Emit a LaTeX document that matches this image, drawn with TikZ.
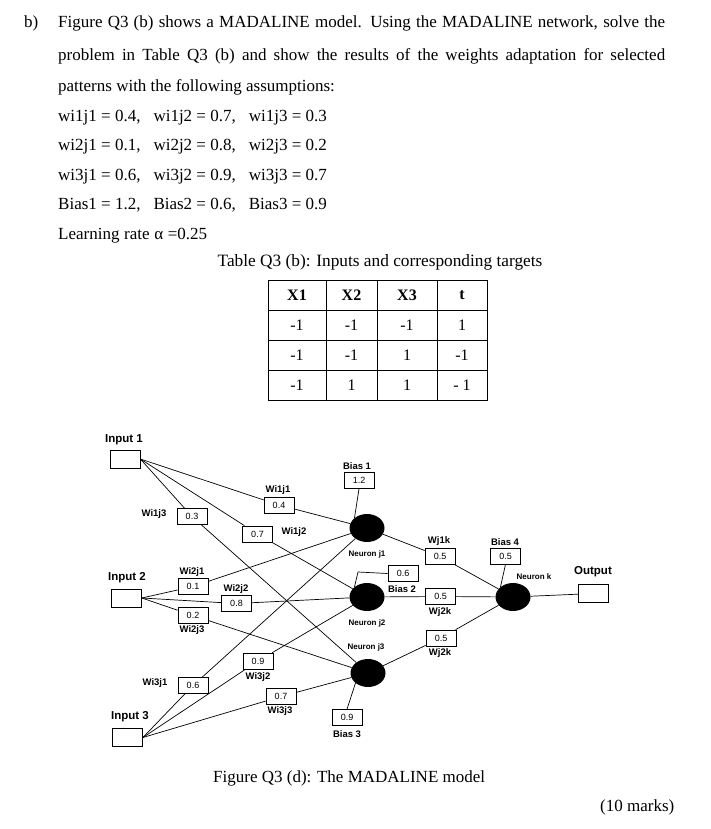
\documentclass[tikz,border=0pt]{standalone}
\usepackage{fontspec}
\setmainfont{Liberation Serif}
\newfontfamily\arial{Liberation Sans}
\usetikzlibrary{shapes.geometric}
\newcommand{\gapq}{,\hspace{13pt}}
\begin{document}
\begin{tikzpicture}[x=1pt,y=-1pt,
 body/.style={font=\fontsize{17}{20}\selectfont, anchor=base west, inner sep=0},
 tcell/.style={font=\fontsize{16}{18}\selectfont, inner sep=0},
 wbox/.style={draw, line width=0.7pt, minimum width=30pt, minimum height=16pt, inner sep=0, font=\arial\fontsize{9}{10}\selectfont},
 ibox/.style={draw, line width=0.7pt, minimum width=30pt, minimum height=18pt, inner sep=0},
 neuron/.style={ellipse, fill=black, minimum width=35pt, minimum height=28pt, inner sep=0},
 lab/.style={font=\arial\bfseries\fontsize{9.5}{10}\selectfont, inner sep=0},
 nlab/.style={font=\arial\bfseries\fontsize{8}{9}\selectfont, inner sep=0},
 iolab/.style={font=\arial\bfseries\fontsize{11.5}{12}\selectfont, inner sep=0},
 conn/.style={line width=0.7pt}
]
\useasboundingbox (0,0) rectangle (710,829);
% ---- question text
\node[body] (tb) at (24,28) {b)};
\node[body] (t1) at (58,28) {\makebox[607pt][s]{Figure Q3 (b) shows a MADALINE model. Using the MADALINE network, solve the}};
\node[body] (t2) at (58,61) {\makebox[607pt][s]{problem in Table Q3 (b) and show the results of the weights adaptation for selected}};
\node[body] (t3) at (58,92) {patterns with the following assumptions:};
\node[body] (t4) at (58,122) {wi1j1 = 0.4\gapq wi1j2 = 0.7\gapq wi1j3 = 0.3};
\node[body] (t5) at (58,151) {wi2j1 = 0.1\gapq wi2j2 = 0.8\gapq wi2j3 = 0.2};
\node[body] (t6) at (58,180) {wi3j1 = 0.6\gapq wi3j2 = 0.9\gapq wi3j3 = 0.7};
\node[body] (t7) at (58,209) {Bias1 = 1.2\gapq Bias2 = 0.6\gapq Bias3 = 0.9};
\node[body] (t8) at (58,239) {\makebox[149pt][s]{Learning rate α =0.25}};
% ---- table
\node[tcell,font=\fontsize{17.3}{19}\selectfont] (ttl) at (380,262) {Table Q3 (b): Inputs and corresponding targets};
\draw[line width=0.8pt] (268,280) rectangle (487,400);
\foreach \y in {310,340,370} \draw[line width=0.8pt] (268,\y) -- (487,\y);
\foreach \x in {326,377,437} \draw[line width=0.8pt] (\x,280) -- (\x,400);
\node[tcell,font=\bfseries\fontsize{16}{18}\selectfont] (h1) at (297,295) {X1};
\node[tcell,font=\bfseries\fontsize{16}{18}\selectfont] (h2) at (351.5,295) {X2};
\node[tcell,font=\bfseries\fontsize{16}{18}\selectfont] (h3) at (407,295) {X3};
\node[tcell,font=\bfseries\fontsize{16}{18}\selectfont] (h4) at (462,295) {t};
\node[tcell] (a1) at (297,325) {-1};
\node[tcell] (a2) at (351.5,325) {-1};
\node[tcell] (a3) at (407,325) {-1};
\node[tcell] (a4) at (462,325) {1};
\node[tcell] (b1c) at (297,355) {-1};
\node[tcell] (b2c) at (351.5,355) {-1};
\node[tcell] (b3c) at (407,355) {1};
\node[tcell] (b4c) at (462,355) {-1};
\node[tcell] (c1) at (297,385) {-1};
\node[tcell] (c2c) at (351.5,385) {1};
\node[tcell] (c3) at (407,385) {1};
\node[tcell] (c4) at (462,385) {- 1};
% ---- network
\node[ibox] (in1) at (125,459) {};
\node[ibox] (in2) at (126.5,598) {};
\node[ibox] (in3) at (127.5,737.5) {};
\node[iolab] (lin1) at (124,440) {Input 1};
\node[iolab] (lin2) at (127,578) {Input 2};
\node[iolab] (lin3) at (130,717) {Input 3};

\node[wbox] (w11) at (279,505) {0.4};
\node[wbox] (w12) at (257.5,534) {0.7};
\node[wbox] (w13) at (192,516.5) {0.3};
\node[wbox] (w21) at (193,586.5) {0.1};
\node[wbox] (w22) at (236.5,603.5) {0.8};
\node[wbox] (w23) at (193,615.5) {0.2};
\node[wbox] (w31) at (193,685.5) {0.6};
\node[wbox] (w32) at (258,661) {0.9};
\node[wbox] (w33) at (281,696.5) {0.7};

\node[lab] (lw11) at (278,490) {Wi1j1};
\node[lab] (lw12) at (294,532) {Wi1j2};
\node[lab] (lw13) at (154,514) {Wi1j3};
\node[lab] (lw21) at (192,572) {Wi2j1};
\node[lab] (lw22) at (236,589) {Wi2j2};
\node[lab] (lw23) at (192,630) {Wi2j3};
\node[lab] (lw31) at (155,683) {Wi3j1};
\node[lab] (lw32) at (258,677) {Wi3j2};
\node[lab] (lw33) at (280,711) {Wi3j3};

\node[neuron] (j1) at (367,528) {};
\node[neuron] (j2) at (367,597) {};
\node[neuron] (j3) at (368,673) {};
\node[nlab] (lj1) at (367,554) {Neuron j1};
\node[nlab] (lj2) at (367,623) {Neuron j2};
\node[nlab] (lj3) at (366,647) {Neuron j3};

\node[wbox] (bb1) at (359,480.5) {1.2};
\node[wbox] (bb2) at (403,573.5) {0.6};
\node[wbox] (bb3) at (347,717.5) {0.9};
\node[lab] (lb1) at (357,466) {Bias 1};
\node[lab] (lb2) at (402,589) {Bias 2};
\node[lab] (lb3) at (347,734) {Bias 3};
\coordinate (c2) at (358,572);

\node[wbox] (k1) at (440,556.5) {0.5};
\node[wbox] (k2) at (440.5,596.5) {0.5};
\node[wbox] (k3) at (441,638) {0.5};
\node[lab] (lk1) at (439,541) {Wj1k};
\node[lab] (lk2) at (440,612) {Wj2k};
\node[lab] (lk3) at (440,653) {Wj2k};
\node[wbox] (bb4) at (505.5,556) {0.5};
\node[lab] (lb4) at (505,542) {Bias 4};
\node[neuron] (nk) at (513,597) {};
\node[nlab] (lnk) at (534,577) {Neuron k};
\node[ibox] (out) at (593.5,593.5) {};
\node[iolab] (lout) at (593,572) {Output};

\draw[conn] (in1.east) -- (w11) -- (j1);
\draw[conn] (in1.east) -- (w12) -- (j2);
\draw[conn] (in1.east) -- (w13) -- (j3);
\draw[conn] (in2.east) -- (w21) -- (j1);
\draw[conn] (in2.east) -- (w22) -- (j2);
\draw[conn] (in2.east) -- (w23) -- (j3);
\draw[conn] (in3.east) -- (w31) -- (j1);
\draw[conn] (in3.east) -- (w32) -- (j2);
\draw[conn] (in3.east) -- (w33) -- (j3);
\draw[conn] (bb1.south) -- (j1.north west);
\draw[conn] (bb2.west) -- (c2) -- (j2.north west);
\draw[conn] (bb3.north) -- (j3.south west);
\draw[conn] (j1) -- (k1) -- (nk);
\draw[conn] (j2) -- (k2) -- (nk);
\draw[conn] (j3) -- (k3) -- (nk);
\draw[conn] (bb4.south) -- (nk.north west);
\draw[conn] (nk) -- (out);
% ---- caption
\node[body] (cap) at (213,782) {Figure Q3 (d): The MADALINE model};
\node[body] (mk) at (600,811) {(10 marks)};
\end{tikzpicture}
\end{document}
